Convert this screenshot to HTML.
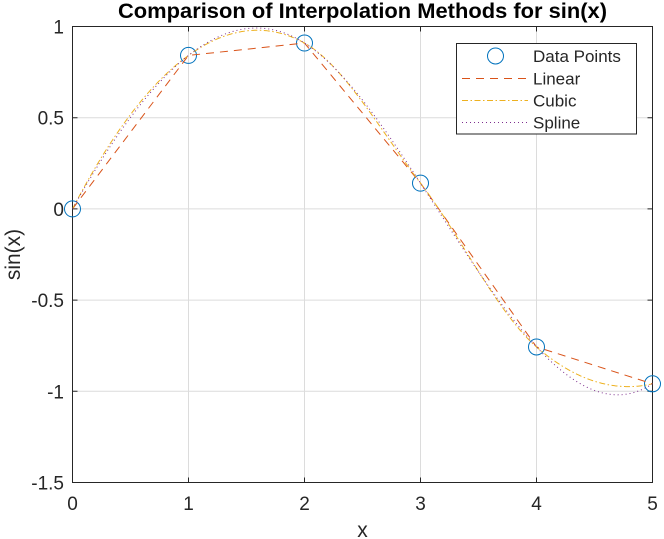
<!DOCTYPE html>
<html><head><meta charset="utf-8"><style>
html,body{margin:0;padding:0;background:#fff;}
svg{display:block;}
text{font-family:"Liberation Sans",Arial,sans-serif;fill:#262626;}
</style></head><body>
<svg id="s" width="664" height="539" viewBox="0 0 664 539" xmlns="http://www.w3.org/2000/svg">
<defs><clipPath id="c"><rect x="72.5" y="26.5" width="580" height="456"/></clipPath></defs>
<rect x="0" y="0" width="664" height="539" fill="#fff"/>
<g stroke="#dcdcdc" stroke-width="1">
<line x1="188.5" y1="26.5" x2="188.5" y2="482.5"/>
<line x1="304.5" y1="26.5" x2="304.5" y2="482.5"/>
<line x1="420.5" y1="26.5" x2="420.5" y2="482.5"/>
<line x1="536.5" y1="26.5" x2="536.5" y2="482.5"/>
<line x1="72.5" y1="117.7" x2="652.5" y2="117.7"/>
<line x1="72.5" y1="208.9" x2="652.5" y2="208.9"/>
<line x1="72.5" y1="300.1" x2="652.5" y2="300.1"/>
<line x1="72.5" y1="391.3" x2="652.5" y2="391.3"/>
</g>
<g stroke="#262626" stroke-width="1" fill="none">
<rect x="72.5" y="26.5" width="580" height="456"/>
<path d="M188.5 482.5v-5M304.5 482.5v-5M420.5 482.5v-5M536.5 482.5v-5M188.5 26.5v5M304.5 26.5v5M420.5 26.5v5M536.5 26.5v5
M72.5 117.7h5M72.5 208.9h5M72.5 300.1h5M72.5 391.3h5M652.5 117.7h-5M652.5 208.9h-5M652.5 300.1h-5M652.5 391.3h-5"/>
</g>
<g id="pts" fill="none" stroke-width="1"></g>
<g id="curves" clip-path="url(#c)" fill="none" stroke-width="1"></g>
<g font-size="19" text-anchor="end">
<text x="64" y="33.5">1</text>
<text x="64" y="124.7">0.5</text>
<text x="64" y="215.9">0</text>
<text x="64" y="307.1">-0.5</text>
<text x="64" y="398.3">-1</text>
<text x="64" y="489.5">-1.5</text>
</g>
<g font-size="19" text-anchor="middle">
<text x="72.5" y="510">0</text>
<text x="188.5" y="510">1</text>
<text x="304.5" y="510">2</text>
<text x="420.5" y="510">3</text>
<text x="536.5" y="510">4</text>
<text x="652.5" y="510">5</text>
</g>
<text x="362.5" y="537" font-size="21" text-anchor="middle">x</text>
<text transform="translate(20,254.5) rotate(-90)" font-size="21" text-anchor="middle">sin(x)</text>
<text x="362.5" y="18" font-size="21" font-weight="bold" text-anchor="middle" textLength="489" lengthAdjust="spacingAndGlyphs" style="fill:#000">Comparison of Interpolation Methods for sin(x)</text>
<rect x="456.5" y="43.5" width="180" height="90.5" fill="#fff" stroke="#262626" stroke-width="1"/>
<circle cx="495.5" cy="56" r="8" fill="none" stroke="#0072BD" stroke-width="1"/>
<line x1="462" y1="78.5" x2="528" y2="78.5" stroke="#D95319" stroke-width="1" stroke-dasharray="8,6"/>
<line x1="462" y1="100.5" x2="528" y2="100.5" stroke="#EDB120" stroke-width="1" stroke-dasharray="6,2.5,1.5,2.5"/>
<line x1="462" y1="122.5" x2="528" y2="122.5" stroke="#7E2F8E" stroke-width="1" stroke-dasharray="1,3"/>
<g font-size="17">
<text x="533" y="62">Data Points</text>
<text x="533" y="84.5">Linear</text>
<text x="533" y="106.5">Cubic</text>
<text x="533" y="128.5">Spline</text>
</g>
</svg>
<script>
(function(){
var ys=[0,1,2,3,4,5].map(Math.sin);
function X(v){return 72.5+116*v;}
function Y(v){return 26.5+(1-v)*182.4;}
var g=document.getElementById('curves');
var gp=document.getElementById('pts');
var NS='http://www.w3.org/2000/svg';
function path(pts,col,dash){
 var d='';for(var i=0;i<pts.length;i++){d+=(i?'L':'M')+X(pts[i][0]).toFixed(2)+' '+Y(pts[i][1]).toFixed(2);}
 var p=document.createElementNS(NS,'path');p.setAttribute('d',d);p.setAttribute('stroke',col);
 p.setAttribute('stroke-dasharray',dash);p.setAttribute('fill','none');p.setAttribute('stroke-width','1');g.appendChild(p);
}
for(var i=0;i<6;i++){var c=document.createElementNS(NS,'circle');c.setAttribute('cx',X(i));c.setAttribute('cy',Y(ys[i]));c.setAttribute('r','8');c.setAttribute('fill','none');c.setAttribute('stroke','#0072BD');c.setAttribute('stroke-width','1');gp.appendChild(c);}
var lin=[];for(i=0;i<6;i++)lin.push([i,ys[i]]);
path(lin,'#D95319','8,6');
var e=[3*ys[0]-3*ys[1]+ys[2]].concat(ys,[3*ys[5]-3*ys[4]+ys[3]]);
var cub=[];var N=500;
for(var k=0;k<=N;k++){var x=5*k/N;var j=Math.min(4,Math.floor(x));var t=x-j;
 var t2=t*t,t3=t2*t;
 var w0=(-t3+2*t2-t)/2,w1=(3*t3-5*t2+2)/2,w2=(-3*t3+4*t2+t)/2,w3=(t3-t2)/2;
 cub.push([x,w0*e[j]+w1*e[j+1]+w2*e[j+2]+w3*e[j+3]]);}
path(cub,'#EDB120','6,2.5,1.5,2.5');
var A=[],b=[];for(i=0;i<6;i++){A.push([0,0,0,0,0,0]);b.push(0);}
A[0][0]=1;A[0][1]=-2;A[0][2]=1;
for(i=1;i<5;i++){A[i][i-1]=1;A[i][i]=4;A[i][i+1]=1;b[i]=6*(ys[i+1]-2*ys[i]+ys[i-1]);}
A[5][3]=1;A[5][4]=-2;A[5][5]=1;
for(var col=0;col<6;col++){var piv=col;for(var r=col+1;r<6;r++)if(Math.abs(A[r][col])>Math.abs(A[piv][col]))piv=r;
 var tmp=A[col];A[col]=A[piv];A[piv]=tmp;var tb=b[col];b[col]=b[piv];b[piv]=tb;
 for(r=0;r<6;r++){if(r==col)continue;var f=A[r][col]/A[col][col];for(var q=col;q<6;q++)A[r][q]-=f*A[col][q];b[r]-=f*b[col];}}
var M=[];for(i=0;i<6;i++)M.push(b[i]/A[i][i]);
var sp=[];
for(k=0;k<=N;k++){var x=5*k/N;var j=Math.min(4,Math.floor(x));var t=x-j;var u=1-t;
 sp.push([x,u*ys[j]+t*ys[j+1]+((u*u*u-u)*M[j]+(t*t*t-t)*M[j+1])/6]);}
path(sp,'#7E2F8E','1,3');
})();
</script>
</body></html>
